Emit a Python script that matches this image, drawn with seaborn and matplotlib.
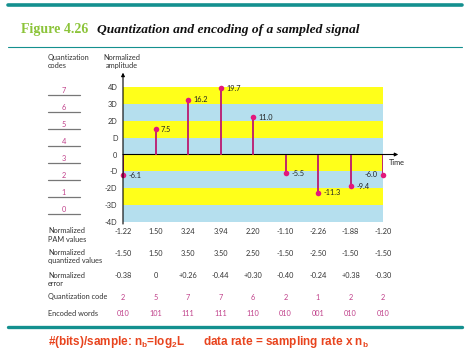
import numpy as np
import pandas as pd
import matplotlib
matplotlib.use("Agg")
import matplotlib.pyplot as plt
import matplotlib.transforms as mtransforms
import seaborn as sns

# ---------------- data ----------------
pam_values = [-1.22, 1.50, 3.24, 3.94, 2.20, -1.10, -2.26, -1.88, -1.20]
amplitude_labels = ["-6.1", "7.5", "16.2", "19.7", "11.0", "-5.5", "-11.3", "-9.4", "-6.0"]
quantized_values = ["-1.50", "1.50", "3.50", "3.50", "2.50", "-1.50", "-2.50", "-1.50", "-1.50"]
errors = ["-0.38", "0", "+0.26", "-0.44", "+0.30", "-0.40", "-0.24", "+0.38", "-0.30"]
quant_codes = ["2", "5", "7", "7", "6", "2", "1", "2", "2"]
encoded_words = ["010", "101", "111", "111", "110", "010", "001", "010", "010"]
pam_labels = ["-1.22", "1.50", "3.24", "3.94", "2.20", "-1.10", "-2.26", "-1.88", "-1.20"]
level_codes = ["7", "6", "5", "4", "3", "2", "1", "0"]
level_values = [3.5, 2.5, 1.5, 0.5, -0.5, -1.5, -2.5, -3.5]
ytick_vals = [4, 3, 2, 1, 0, -1, -2, -3, -4]
ytick_labels = ["4D", "3D", "2D", "D", "0", "-D", "-2D", "-3D", "-4D"]
row_labels = ["Normalized\nPAM values", "Normalized\nquantized values",
              "Normalized\nerror", "Quantization code", "Encoded words"]

sns.set_theme(style="white")
plt.rcParams["font.family"] = ["Lato", "DejaVu Sans"]
plt.rcParams["mathtext.fontset"] = "custom"
plt.rcParams["mathtext.rm"] = "Liberation Sans:bold"
plt.rcParams["mathtext.default"] = "rm"

W, H = 474, 355
fig = plt.figure(figsize=(W / 100, H / 100), dpi=100)
fig.patch.set_facecolor("white")

def fx(x):
    return x / W

def fy(y):
    return 1 - y / H

# main axes: x 123..383 px, y 87..222 px
ax = fig.add_axes([fx(123), fy(222), fx(383) - fx(123), fy(87) - fy(222)])
ax.set_xlim(0, 8)
ax.set_ylim(-4, 4)
for s in ax.spines.values():
    s.set_visible(False)

YEL = "#ffff1a"
BLU = "#b5dfee"
bands = [(3, 4, YEL), (2, 3, BLU), (1, 2, YEL), (0, 1, BLU),
         (-1, 0, YEL), (-2, -1, BLU), (-3, -2, YEL), (-4, -3, BLU)]
for lo, hi, c in bands:
    ax.axhspan(lo, hi, color=c, lw=0, zorder=0)

ax.set_yticks(ytick_vals)
ax.set_yticklabels(ytick_labels)
ax.set_xticks([])
ax.tick_params(axis="y", length=0, pad=4, labelsize=5.3, colors="#333333")

df = pd.DataFrame({"t": np.arange(len(pam_values)), "v": pam_values})
STEM = "#bb1870"
DOT = "#e3177c"
ax.vlines(df["t"], 0, df["v"], color=STEM, lw=1.3, zorder=2)
sns.scatterplot(data=df, x="t", y="v", ax=ax, color=DOT, s=16, edgecolor=DOT,
                linewidth=0, zorder=4, clip_on=False, legend=False)
ax.set_xlabel("")
ax.set_ylabel("")

for i, (v, lab) in enumerate(zip(pam_values, amplitude_labels)):
    if i == len(pam_values) - 1:
        ax.annotate(lab, (i, v), xytext=(-4, 0), textcoords="offset points",
                    ha="right", va="center", fontsize=5.3, color="#222222")
    else:
        ax.annotate(lab, (i, v), xytext=(4, 0), textcoords="offset points",
                    ha="left", va="center", fontsize=5.3, color="#222222")

# axes arrows
ax.annotate("", xy=(0, 4.85), xytext=(0, -4.12), annotation_clip=False,
            arrowprops=dict(arrowstyle="-|>", color="black", lw=0.8,
                            mutation_scale=5, shrinkA=0, shrinkB=0), zorder=5)
ax.annotate("", xy=(8.47, 0), xytext=(0, 0), annotation_clip=False,
            arrowprops=dict(arrowstyle="-|>", color="black", lw=0.8,
                            mutation_scale=5, shrinkA=0, shrinkB=0), zorder=1)
fig.text(fx(389), fy(162), "Time", fontsize=5.3, color="#222222", ha="left", va="center")

# headers
fig.text(fx(48), fy(61.5), "Quantization\ncodes", fontsize=5.3, color="#333333",
         ha="left", va="center", linespacing=1.15)
fig.text(fx(122), fy(61.5), "Normalized\namplitude", fontsize=5.3, color="#333333",
         ha="center", va="center", linespacing=1.15)

# quantization code levels on the left
blend_y = mtransforms.blended_transform_factory(fig.transFigure, ax.transData)
for code, lv in zip(level_codes, level_values):
    fig.add_artist(plt.Line2D([fx(48), fx(80)], [lv, lv], transform=blend_y,
                              color="#777777", lw=0.9))
    fig.text(fx(64), lv + 0.27, code, transform=blend_y, fontsize=5.3,
             color="#c0408a", ha="center", va="center")

# table rows
blend_x = mtransforms.blended_transform_factory(ax.transData, fig.transFigure)
row_y = [231, 253, 276, 297, 314]
row_vals = [pam_labels, quantized_values, errors, quant_codes, encoded_words]
row_cols = ["#333333", "#333333", "#333333", "#c0408a", "#c0408a"]
for lab, y, vals, col in zip(row_labels, row_y, row_vals, row_cols):
    if "\n" in lab:
        fig.text(fx(48), fy(y - 4), lab, fontsize=5.3, color="#333333",
                 ha="left", va="top", linespacing=1.25)
    else:
        fig.text(fx(48), fy(y), lab, fontsize=5.3, color="#333333",
                 ha="left", va="center")
    for i, v in enumerate(vals):
        fig.text(i, fy(y), v, transform=blend_x, fontsize=5.3, color=col,
                 ha="center", va="center")

# title and decorative lines
TEAL = "#14908f"
fig.add_artist(plt.Line2D([fx(8), fx(462)], [fy(4.5), fy(4.5)], color=TEAL, lw=2.6))
fig.add_artist(plt.Line2D([fx(8), fx(462)], [fy(47), fy(47)], color=TEAL, lw=0.8))
fig.add_artist(plt.Line2D([fx(8), fx(462)], [fy(327), fy(327)], color=TEAL, lw=2.4))
fig.text(fx(21), fy(30), "Figure 4.26", fontsize=10, fontweight="bold",
         family="Liberation Serif", color="#8cc43a", ha="left", va="center")
fig.text(fx(97), fy(30), "Quantization and encoding of a sampled signal",
         fontsize=9.7, fontweight="bold", style="italic", family="Liberation Serif",
         color="#111111", ha="left", va="center")

fig.text(fx(48), fy(342), r"#(bits)/sample: n$_b$=log$_2$L", fontsize=8.5,
         fontweight="bold", family="Liberation Sans", color="#e8441e",
         ha="left", va="center")
fig.text(fx(203), fy(342), r"data rate = sampling rate x n$_b$", fontsize=8.5,
         fontweight="bold", family="Liberation Sans", color="#e8441e",
         ha="left", va="center")

fig.savefig("out.png", dpi=100)
